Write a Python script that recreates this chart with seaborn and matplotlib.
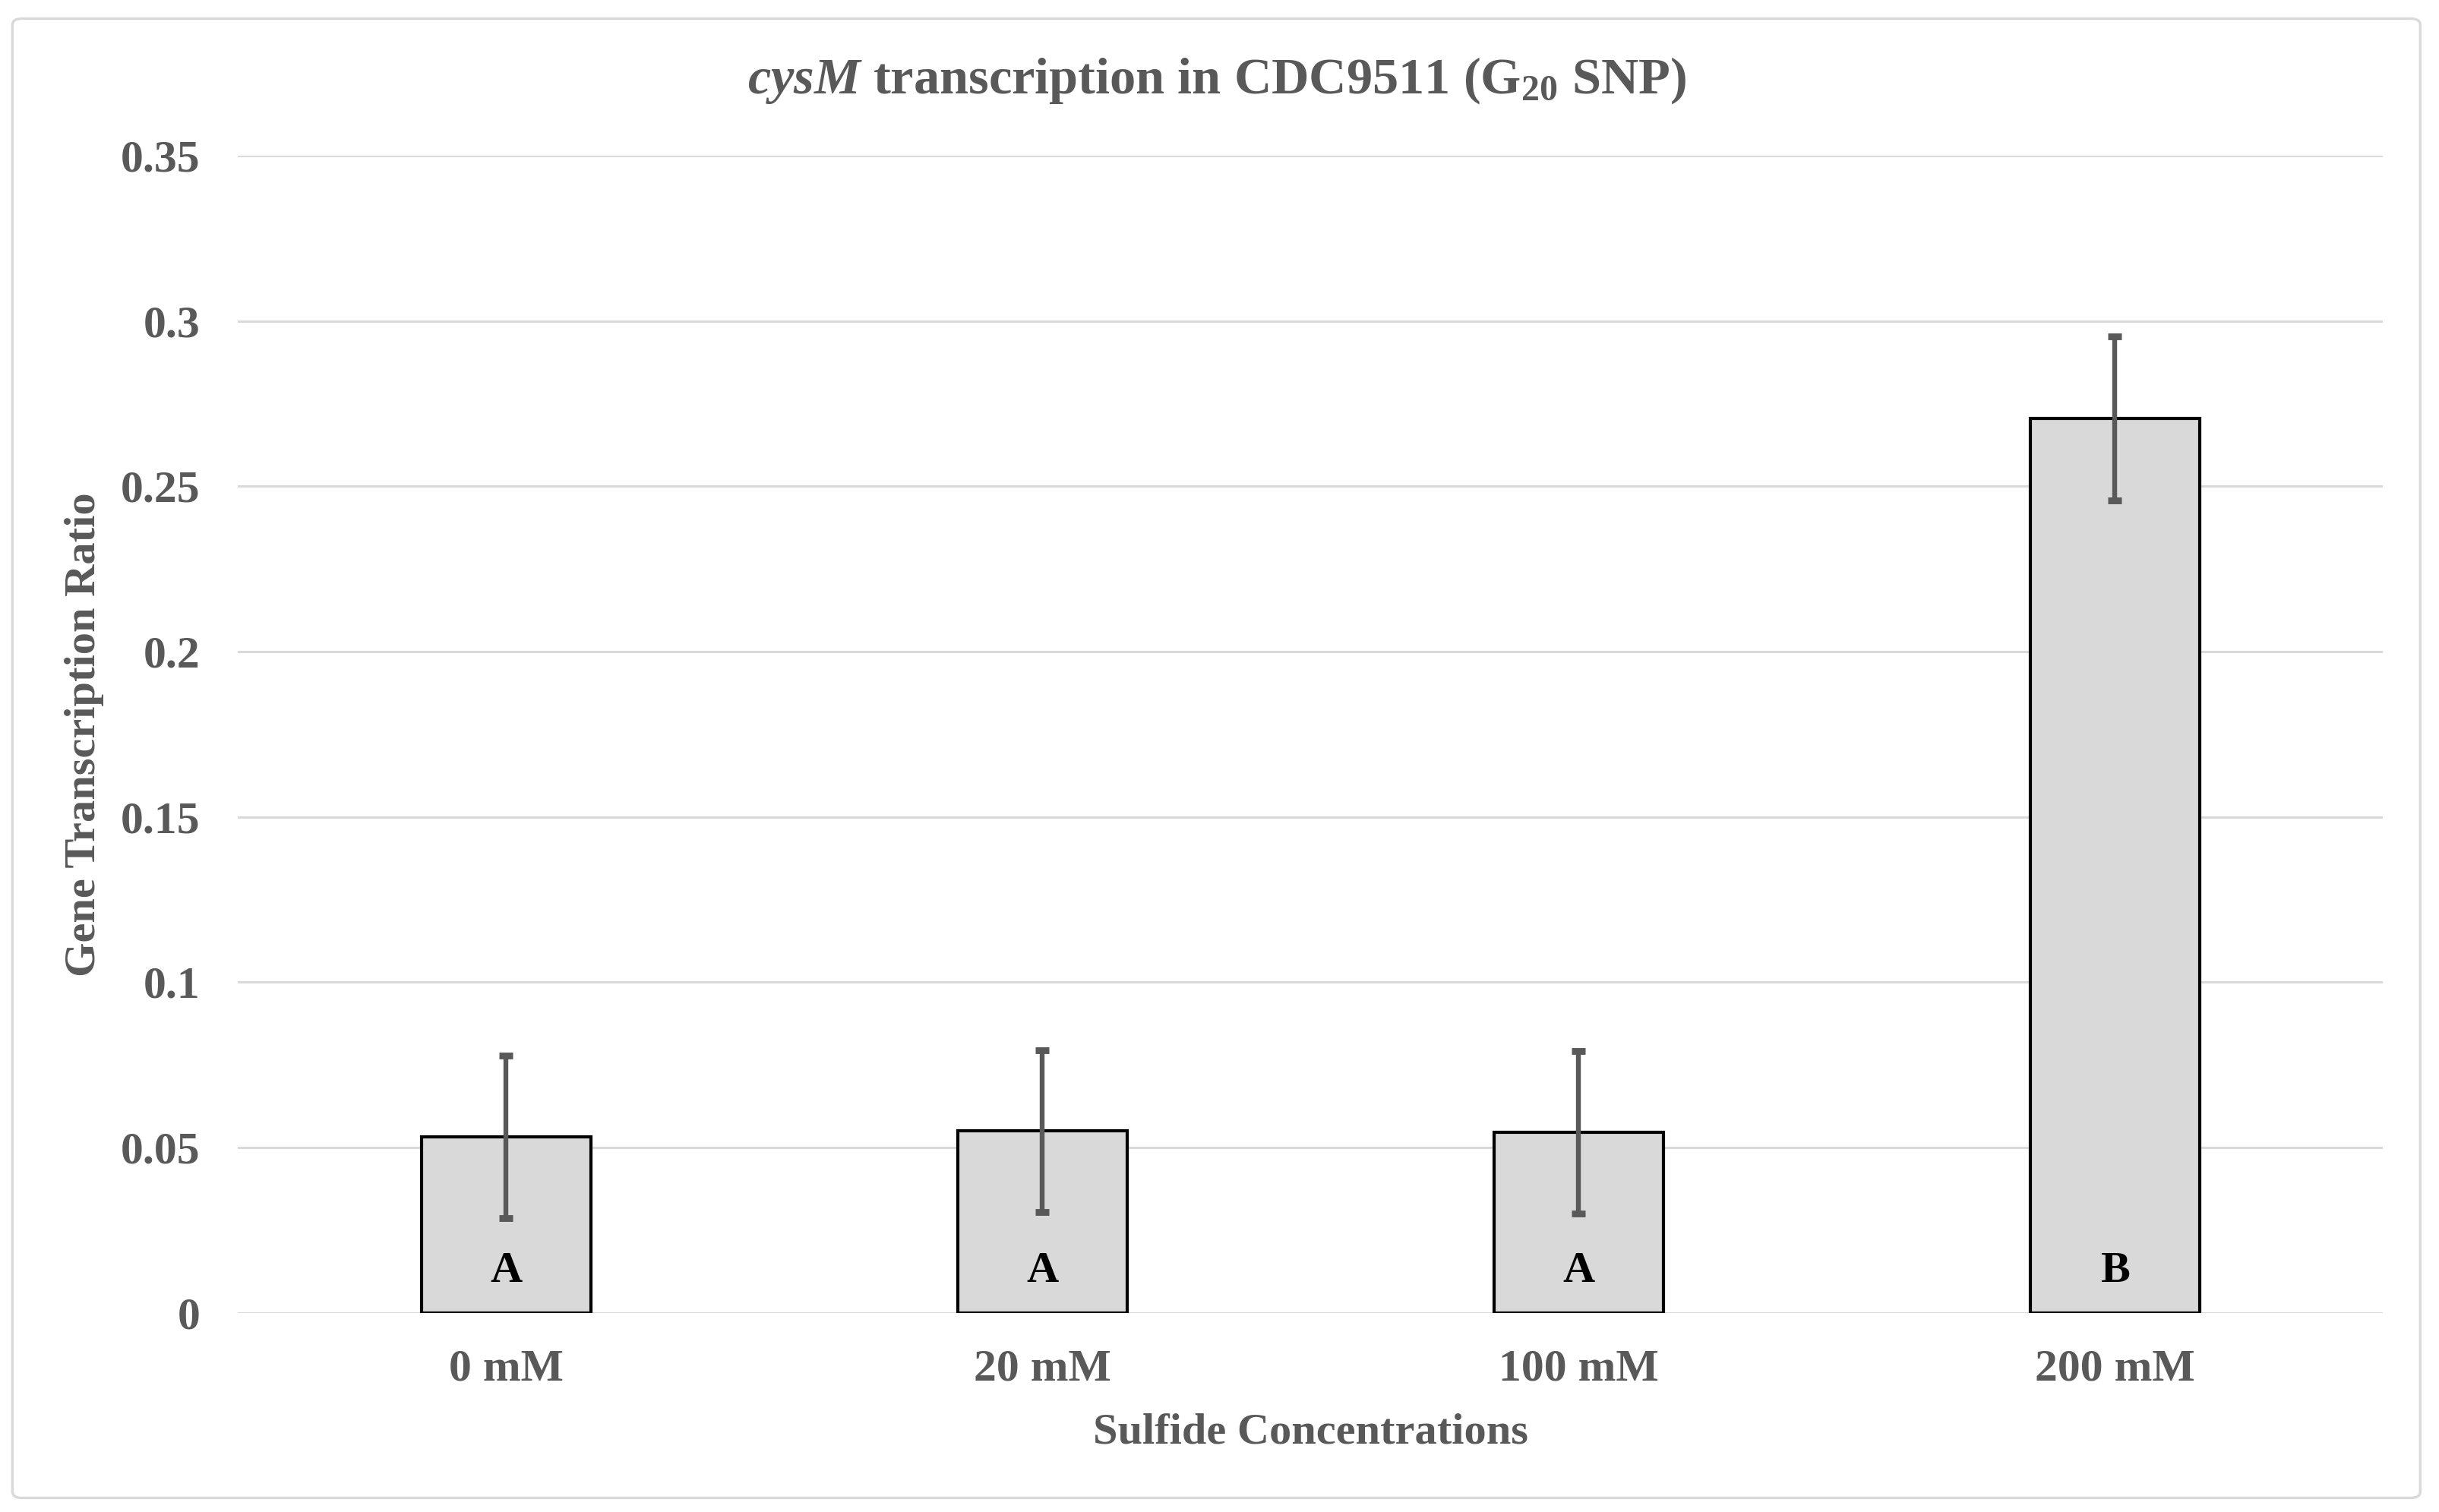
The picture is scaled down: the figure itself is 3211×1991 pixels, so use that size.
import matplotlib
matplotlib.use("Agg")
import matplotlib.pyplot as plt
import seaborn as sns
import pandas as pd
from matplotlib.patches import FancyBboxPatch

# ---- data ----
categories = ["0 mM", "20 mM", "100 mM", "200 mM"]
ratios = [0.0533, 0.0550, 0.0546, 0.2705]
errors = [0.0246, 0.0245, 0.0245, 0.0247]
letters = ["A", "A", "A", "B"]
yticks = [0, 0.05, 0.1, 0.15, 0.2, 0.25, 0.3, 0.35]
ytick_labels = ["0", "0.05", "0.1", "0.15", "0.2", "0.25", "0.3", "0.35"]

df = pd.DataFrame({"conc": categories, "ratio": ratios})

sns.set_theme(style="white")
plt.rcParams["font.family"] = ["Liberation Serif", "DejaVu Serif"]
plt.rcParams["mathtext.fontset"] = "custom"
plt.rcParams["mathtext.rm"] = "Liberation Serif:bold"
plt.rcParams["mathtext.it"] = "Liberation Serif:italic:bold"
plt.rcParams["mathtext.bf"] = "Liberation Serif:bold"

GREY = "#595959"
LIGHT = "#d9d9d9"

fig = plt.figure(figsize=(16.055, 9.955), dpi=200)
ax = fig.add_axes([0.0976, 0.1317, 0.977 - 0.0976, 0.8971 - 0.1317])

# outer chart border
border = FancyBboxPatch((0.0051, 0.0093), 0.9923 - 0.0051, 0.9877 - 0.0093,
                        boxstyle="round,pad=0,rounding_size=0.004",
                        transform=fig.transFigure, fill=False,
                        edgecolor=LIGHT, linewidth=1.2, zorder=0)
fig.patches.append(border)

sns.barplot(data=df, x="conc", y="ratio", ax=ax, color=LIGHT, width=0.316,
            edgecolor="black", linewidth=1.5, errorbar=None, saturation=1,
            zorder=3)

xpos = list(range(len(categories)))
ax.errorbar(xpos, ratios, yerr=errors, fmt="none", ecolor=GREY,
            elinewidth=2.3, capsize=3.2, capthick=3.2, zorder=4)

for x, letter in zip(xpos, letters):
    ax.text(x, 0.0125, letter, ha="center", va="center", fontsize=21,
            fontweight="bold", color="black", zorder=5)

ax.set_ylim(0, 0.35)
ax.set_xlim(-0.5, 3.5)
ax.set_yticks(yticks)
ax.set_yticklabels(ytick_labels)
ax.yaxis.grid(True, color=LIGHT, linewidth=1.1, zorder=0)
ax.set_axisbelow(True)
for s in ax.spines.values():
    s.set_visible(False)
ax.tick_params(axis="both", length=0, labelsize=21.5, labelcolor=GREY)
ax.tick_params(axis="y", pad=18)
ax.tick_params(axis="x", pad=17)
for lab in ax.get_xticklabels() + ax.get_yticklabels():
    lab.set_fontweight("bold")

ax.set_xlabel("Sulfide Concentrations", fontsize=21, fontweight="bold",
              color=GREY, labelpad=11)
ax.set_ylabel("Gene Transcription Ratio", fontsize=21, fontweight="bold",
              color=GREY, labelpad=8)

fig.text(0.499, 0.9465,
         r"$\mathit{cysM}$ transcription in CDC9511 (G$_{20}$ SNP)",
         ha="center", va="center", fontsize=24.6, fontweight="bold", color=GREY)

fig.savefig("out.png", dpi=200, facecolor="white")
